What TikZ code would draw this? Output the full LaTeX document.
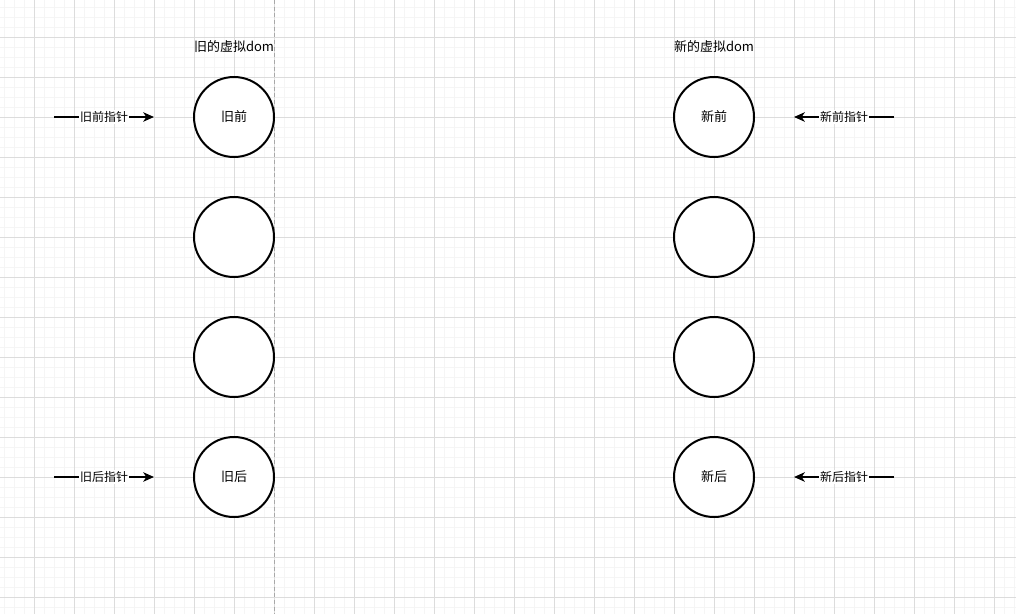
\documentclass[tikz,border=0pt]{standalone}
\usepackage{fontspec}
\setmainfont{Noto Sans CJK SC}
\usetikzlibrary{arrows.meta}

\definecolor{gridminor}{HTML}{F5F5F5}
\definecolor{gridmajor}{HTML}{DCDCDC}
\definecolor{divider}{HTML}{A8A8A8}

\tikzset{
  vnode/.style={circle, draw=black, line width=1.5pt, fill=white, minimum size=60pt, inner sep=0pt, font=\fontsize{9.75}{12}\selectfont},
  title/.style={font=\fontsize{9.75}{12}\selectfont},
  pointer/.style={line width=1.5pt, -{Stealth[length=8pt, width=7pt, inset=2.2pt]}},
  plabel/.style={fill=white, inner sep=1pt, font=\fontsize{9}{11}\selectfont}
}

\begin{document}
\begin{tikzpicture}[x=0.75pt, y=-0.75pt]
\useasboundingbox (0,0) rectangle (1016,614);
\fill[white] (0,0) rectangle (1016,614);

% Grid in the background
\foreach \x in {4,14,...,1014} \draw[gridminor, line width=0.75pt] (\x,0) -- (\x,614);
\foreach \y in {7,17,...,607} \draw[gridminor, line width=0.75pt] (0,\y) -- (1016,\y);
\foreach \x in {34,74,...,994} \draw[gridmajor, line width=0.75pt] (\x,0) -- (\x,614);
\foreach \y in {37,77,...,597} \draw[gridmajor, line width=0.75pt] (0,\y) -- (1016,\y);

% Divider
\coordinate (divtop) at (274,0);
\coordinate (divbot) at (274,614);
\draw[divider, line width=0.75pt, dash pattern=on 3pt off 2pt] (divtop) -- (divbot);

% Old virtual dom
\node[title] (oldtitle) at (234,47) {旧的虚拟dom};
\node[vnode] (oldstart) at (234,117) {旧前};
\node[vnode] (old2) at (234,237) {};
\node[vnode] (old3) at (234,357) {};
\node[vnode] (oldend) at (234,477) {旧后};

% New virtual dom
\node[title] (newtitle) at (714,47) {新的虚拟dom};
\node[vnode] (newstart) at (714,117) {新前};
\node[vnode] (new2) at (714,237) {};
\node[vnode] (new3) at (714,357) {};
\node[vnode] (newend) at (714,477) {新后};

% Pointers
\coordinate (osfrom) at (54,117);
\coordinate (osto) at (154,117);
\draw[pointer] (osfrom) -- node[plabel] {旧前指针} (osto);

\coordinate (oefrom) at (54,477);
\coordinate (oeto) at (154,477);
\draw[pointer] (oefrom) -- node[plabel] {旧后指针} (oeto);

\coordinate (nsfrom) at (894,117);
\coordinate (nsto) at (794,117);
\draw[pointer] (nsfrom) -- node[plabel] {新前指针} (nsto);

\coordinate (nefrom) at (894,477);
\coordinate (neto) at (794,477);
\draw[pointer] (nefrom) -- node[plabel] {新后指针} (neto);
\end{tikzpicture}
\end{document}
